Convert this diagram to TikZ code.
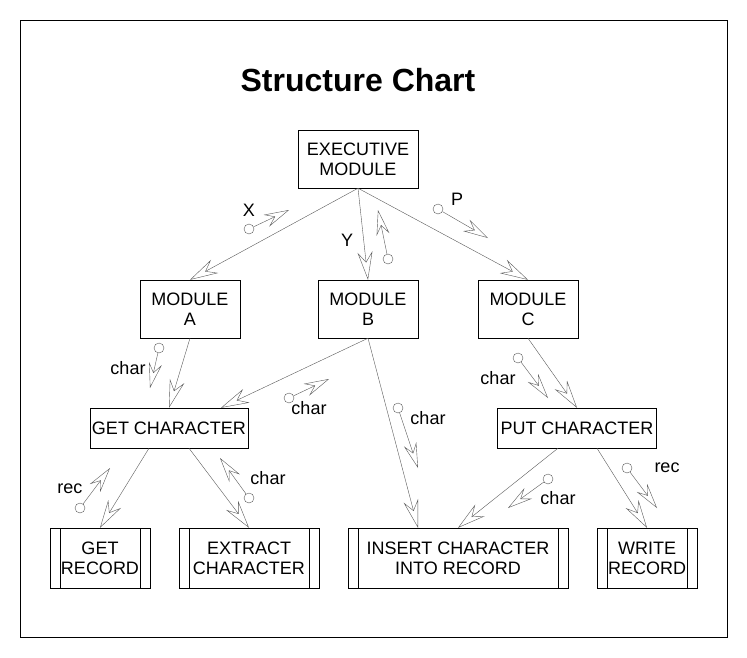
\documentclass[tikz,border=0pt]{standalone}
\usepackage{fontspec}
\setmainfont{Liberation Sans}
\usetikzlibrary{arrows.meta}
\tikzset{
  box/.style={draw,inner sep=2pt,align=center,font=\fontsize{18}{20}\selectfont},
  libbox/.style={box,path picture={
      \draw ([xshift=10pt]path picture bounding box.north west) -- ([xshift=10pt]path picture bounding box.south west);
      \draw ([xshift=-10pt]path picture bounding box.north east) -- ([xshift=-10pt]path picture bounding box.south east);}},
  call/.style={draw=black!65,-{Stealth[open,length=28pt,width=15pt,inset=10pt]}},
  couple/.style={circle,draw=black!65,inner sep=0pt,minimum size=10pt},
  flow/.style={draw=black!65,-{Stealth[open,length=25pt,width=13pt,inset=9pt]}},
  lbl/.style={font=\fontsize{18}{20}\selectfont,inner sep=0pt}
}
\begin{document}
\begin{tikzpicture}[x=1pt,y=-1pt]
  \useasboundingbox (0,0) rectangle (747,657);
  \draw (20,20) rectangle (727,637);
  \node[font=\bfseries\fontsize{32}{36}\selectfont] (title) at (358,80) {Structure Chart};

  % modules
  \node[box,minimum width=120pt,minimum height=58pt] (exec) at (358,159) {EXECUTIVE\\MODULE};
  \node[box,minimum width=100pt,minimum height=58pt] (modA) at (190,309) {MODULE\\A};
  \node[box,minimum width=100pt,minimum height=58pt] (modB) at (368,309) {MODULE\\B};
  \node[box,minimum width=100pt,minimum height=58pt] (modC) at (528,309) {MODULE\\C};
  \node[box,minimum width=158pt,minimum height=40pt] (getchar) at (169,428) {GET CHARACTER};
  \node[box,minimum width=159pt,minimum height=40pt] (putchar) at (577,428) {PUT CHARACTER};
  \node[libbox,minimum width=100pt,minimum height=60pt] (getrec) at (100,558) {GET\\RECORD};
  \node[libbox,minimum width=140pt,minimum height=60pt] (extract) at (249,558) {EXTRACT\\CHARACTER};
  \node[libbox,minimum width=220pt,minimum height=60pt] (insert) at (458,558) {INSERT CHARACTER\\INTO RECORD};
  \node[libbox,minimum width=100pt,minimum height=60pt] (writerec) at (647,558) {WRITE\\RECORD};

  % calls
  \draw[call] (exec.south) -- (modA.north);
  \draw[call] (exec.south) -- (modB.north);
  \draw[call] (exec.south) -- (modC.north);
  \draw[call] (modA.south) -- (getchar.north);
  \draw[call] (modB.south) -- ([xshift=52pt]getchar.north);
  \draw[call] (modB.south) -- ([xshift=-40pt]insert.north);
  \draw[call] (modC.south) -- (putchar.north);
  \draw[call] ([xshift=-20pt]getchar.south) -- (getrec.north);
  \draw[call] ([xshift=20pt]getchar.south) -- (extract.north);
  \draw[call] ([xshift=-19pt]putchar.south) -- (insert.north);
  \draw[call] ([xshift=20pt]putchar.south) -- (writerec.north);

  % data couples
  \node[couple] (cx) at (249,229) {};
  \coordinate (ex) at (289,210);
  \draw[flow] (cx) -- (ex);
  \node[lbl] (lx) at (249,210) {X};

  \node[couple] (cy) at (388,259) {};
  \coordinate (ey) at (378,210);
  \draw[flow] (cy) -- (ey);
  \node[lbl] (ly) at (347,240) {Y};

  \node[couple] (cp) at (438,209) {};
  \coordinate (ep) at (488,238);
  \draw[flow] (cp) -- (ep);
  \node[lbl] (lp) at (457,199) {P};

  \node[couple] (ca) at (159,348) {};
  \coordinate (ea) at (150,388);
  \draw[flow] (ca) -- (ea);
  \node[lbl] (la) at (128,368) {char};

  \node[couple] (cb) at (289,398) {};
  \coordinate (eb) at (329,379);
  \draw[flow] (cb) -- (eb);
  \node[lbl] (lb) at (309,408) {char};

  \node[couple] (ci) at (398,408) {};
  \coordinate (ei) at (418,468);
  \draw[flow] (ci) -- (ei);
  \node[lbl] (li) at (428,418) {char};

  \node[couple] (cc) at (518,358) {};
  \coordinate (ec) at (548,398);
  \draw[flow] (cc) -- (ec);
  \node[lbl] (lc) at (498,378) {char};

  \node[couple] (cr) at (80,508) {};
  \coordinate (er) at (110,468);
  \draw[flow] (cr) -- (er);
  \node[lbl] (lr) at (70,489) {rec};

  \node[couple] (ce) at (249,498) {};
  \coordinate (ee) at (220,458);
  \draw[flow] (ce) -- (ee);
  \node[lbl] (le) at (268,478) {char};

  \node[couple] (cn) at (548,479) {};
  \coordinate (en) at (508,508);
  \draw[flow] (cn) -- (en);
  \node[lbl] (ln) at (558,498) {char};

  \node[couple] (cw) at (627,468) {};
  \coordinate (ew) at (657,508);
  \draw[flow] (cw) -- (ew);
  \node[lbl] (lw) at (667,468) {rec};
\end{tikzpicture}
\end{document}
